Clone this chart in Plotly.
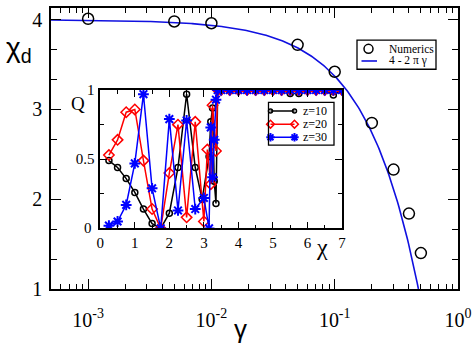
import numpy as np
import plotly.graph_objects as go

# ---- main panel data ----
gamma_num = [1e-3, 5e-3, 1e-2, 5e-2, 0.1, 0.2, 0.3, 0.4, 0.5]
chi_num = [4.01, 3.98, 3.96, 3.72, 3.42, 2.85, 2.33, 1.84, 1.40]

# theory curve 4 - 2*pi*gamma (drawn down to chi = 1)
gamma_fit = np.logspace(np.log10(5e-4), np.log10(3.0 / (2 * np.pi)), 300)
chi_fit = 4 - 2 * np.pi * gamma_fit

# ---- inset data ----
top_x = [3.5, 3.75, 4.0, 4.25, 4.5, 4.75, 5.0, 5.25, 5.5, 5.75, 6.0, 6.25, 6.5, 6.75, 7.0]

x_z10 = [0.25, 0.5, 0.75, 1.0, 1.25, 1.5, 1.75, 2.0, 2.25, 2.5, 2.75, 2.95, 3.15, 3.2, 3.25, 3.3, 3.35, 3.4] + top_x
q_z10 = [0.49, 0.44, 0.36, 0.26, 0.14, 0.035, 0.0, 0.11, 0.44, 0.97, 0.44, 0.21, 0.52, 0.77, 0.87, 0.34, 0.18, 1.0,
         1.0, 1.0, 1.0, 1.0, 1.0, 1.0, 1.0, 1.0, 0.975, 0.975, 1.0, 1.0, 1.0, 0.965, 1.0]

x_z20 = [0.25, 0.5, 0.75, 1.0, 1.25, 1.5, 1.75, 2.0, 2.25, 2.5, 2.75, 3.0, 3.1, 3.2, 3.25, 3.35, 3.4] + top_x
q_z20 = [0.53, 0.64, 0.84, 0.86, 0.49, 0.14, 0.0, 0.40, 0.75, 0.08, 0.77, 0.05, 0.57, 0.32, 0.89, 0.56, 1.0,
         1.0, 1.0, 1.0, 1.0, 1.0, 1.0, 1.0, 1.0, 1.0, 1.0, 1.0, 1.0, 1.0, 1.0, 1.0]

x_z30 = [0.25, 0.5, 0.75, 1.0, 1.25, 1.5, 1.75, 2.0, 2.25, 2.5, 2.75, 3.0, 3.15, 3.2, 3.25, 3.3, 3.35, 3.4] + top_x
q_z30 = [0.02, 0.05, 0.17, 0.47, 0.97, 0.29, 0.0, 0.79, 0.13, 0.78, 0.14, 0.22, 0.0, 0.73, 0.37, 0.64, 0.93, 1.0,
         1.0, 1.0, 1.0, 1.0, 1.0, 1.0, 1.0, 1.0, 1.0, 1.0, 1.0, 1.0, 1.0, 1.0, 1.0]

# ---- ticks ----
main_xticks = [1e-3, 1e-2, 1e-1, 1e0]
main_xticktext = ["10<sup>-3</sup>", "10<sup>-2</sup>", "10<sup>-1</sup>", "10<sup>0</sup>"]
main_xminor = [k * 10.0 ** e for e in (-4, -3, -2, -1) for k in range(2, 10)]
main_yticks = [1, 2, 3, 4]
main_yminor = [1 + i / 3 for i in range(1, 10) if i % 3 != 0]
inset_xticks = [0, 1, 2, 3, 4, 5, 6, 7]
inset_yticks = [0.5, 1]
inset_yticktext = ["0.5", "1"]

SERIF = "Liberation Serif"
SANS = "Liberation Sans"

W, H = 474, 344
L, R, T, B = 51, 16, 0, 55
pw, ph = W - L - R, H - T - B
INSET_X = [0.1211, 0.715]
INSET_Y = [0.2156, 0.708]

BLACK, RED, BLUE, LINEBLUE = "black", "#ff0000", "#0000ff", "#1010e0"

fig = go.Figure()

fig.add_trace(go.Scatter(
    x=gamma_fit, y=chi_fit, mode="lines", name="4 - 2 π γ",
    line=dict(color=LINEBLUE, width=1.6), xaxis="x", yaxis="y", showlegend=False))
fig.add_trace(go.Scatter(
    x=gamma_num, y=chi_num, mode="markers", name="Numerics",
    marker=dict(symbol="circle-open", size=11, color=BLACK, line=dict(width=1.5, color=BLACK)),
    xaxis="x", yaxis="y", showlegend=False))

inset_styles = [
    ("z=10", x_z10, q_z10, BLACK, "circle-open", 6, 1.5),
    ("z=20", x_z20, q_z20, RED, "diamond-open", 8, 1.5),
    ("z=30", x_z30, q_z30, BLUE, "asterisk-open", 9, 2.0),
]
for name, xs, ys, col, sym, sz, mlw in inset_styles:
    fig.add_trace(go.Scatter(
        x=xs, y=ys, mode="lines+markers", name=name,
        line=dict(color=col, width=1.5),
        marker=dict(symbol=sym, size=sz, color=col, line=dict(width=mlw, color=col)),
        xaxis="x2", yaxis="y2", showlegend=False))

# ---- hand-drawn legends on pixel overlay axes ----
# main legend keys (overlay on the main subplot: x3/y3)
fig.add_trace(go.Scatter(x=[368.5], y=[42], mode="markers",
                         marker=dict(symbol="circle-open", size=9, color=BLACK, line=dict(width=1.5, color=BLACK)),
                         xaxis="x3", yaxis="y3", showlegend=False, hoverinfo="skip"))
fig.add_trace(go.Scatter(x=[361.5, 377], y=[54.5, 54.5], mode="lines", line=dict(color=LINEBLUE, width=1.6),
                         xaxis="x3", yaxis="y3", showlegend=False, hoverinfo="skip"))
# inset legend keys (overlay on the inset subplot: x4/y4)
for (name, xs, ys, col, sym, sz, mlw), ky in zip(inset_styles, [106, 119.5, 133]):
    fig.add_trace(go.Scatter(x=[270.5, 294.5], y=[ky, ky], mode="lines+markers",
                             line=dict(color=col, width=1.5),
                             marker=dict(symbol=sym, size=sz - 2, color=col, line=dict(width=mlw, color=col)),
                             xaxis="x4", yaxis="y4", showlegend=False, hoverinfo="skip"))

axis_common = dict(showline=True, linecolor="black", linewidth=1.6, mirror="ticks",
                   ticks="inside", tickcolor="black", tickwidth=1.3, showgrid=False, zeroline=False)

ix0, ix1 = L + INSET_X[0] * pw, L + INSET_X[1] * pw
iy_bot, iy_top = H - B - INSET_Y[0] * ph, H - B - INSET_Y[1] * ph

fig.update_layout(
    width=W, height=H,
    margin=dict(l=L, r=R, t=T, b=B),
    paper_bgcolor="white", plot_bgcolor="white",
    showlegend=False,
    xaxis=dict(type="log", range=[np.log10(5e-4), 0], domain=[0, 1],
               tickvals=main_xticks, ticktext=main_xticktext, ticklen=10,
               tickfont=dict(family=SERIF, size=20, color="black"),
               minor=dict(ticks="inside", tickvals=main_xminor, ticklen=5, tickcolor="black", tickwidth=1.3,
                          showgrid=False),
               ticklabelstandoff=12, **axis_common),
    yaxis=dict(range=[1, 4.13], domain=[0, 1], tickvals=main_yticks, ticklen=10,
               tickfont=dict(family=SERIF, size=20, color="black"),
               minor=dict(ticks="inside", tickvals=main_yminor, ticklen=6, tickcolor="black", tickwidth=1.3,
                          showgrid=False),
               ticklabelstandoff=3, **axis_common),
    xaxis2=dict(range=[0, 7], domain=INSET_X, anchor="y2", tickvals=inset_xticks, ticklen=7,
                tickfont=dict(family=SERIF, size=15, color="black"),
                minor=dict(ticks="inside", dtick=0.5, ticklen=4, tickcolor="black", tickwidth=1.2, showgrid=False),
                ticklabelstandoff=0, **axis_common),
    yaxis2=dict(range=[0, 1], domain=INSET_Y, anchor="x2", tickvals=inset_yticks, ticktext=inset_yticktext,
                ticklen=7, tickfont=dict(family=SERIF, size=15, color="black"),
                minor=dict(ticks="inside", dtick=0.25, ticklen=4, tickcolor="black", tickwidth=1.2, showgrid=False),
                ticklabelstandoff=1, **axis_common),
    xaxis3=dict(range=[L, W - R], anchor="y3", overlaying="x", visible=False, fixedrange=True),
    yaxis3=dict(range=[H - B, T], anchor="x3", overlaying="y", visible=False, fixedrange=True),
    xaxis4=dict(range=[ix0, ix1], anchor="y4", overlaying="x2", visible=False, fixedrange=True),
    yaxis4=dict(range=[iy_bot, iy_top], anchor="x4", overlaying="y2", visible=False, fixedrange=True),
    shapes=[
        dict(type="rect", xref="x3", yref="y3", x0=357, x1=436, y0=33, y1=63,
             line=dict(color="black", width=1.3), fillcolor="rgba(0,0,0,0)", layer="above"),
        dict(type="rect", xref="x4", yref="y4", x0=268.5, x1=334, y0=97, y1=141,
             line=dict(color="black", width=1.3), fillcolor="rgba(0,0,0,0)", layer="above"),
    ],
)


def pix(px, py):
    return (px - L) / pw, (H - B - py) / ph


anns = []
for text, (px, py), fam, size in [
    ("χ<sub>d</sub>", (19, 43), SANS, 28),
    ("γ", (240, 330), SANS, 26),
    ("Q", (78, 98), SERIF, 19),
    ("χ", (322, 246), SERIF, 24),
    ("0", (88, 226), SERIF, 15),
]:
    x, y = pix(px, py)
    anns.append(dict(text=text, x=x, y=y, xref="paper", yref="paper", xanchor="center", yanchor="middle",
                     showarrow=False, font=dict(family=fam, size=size, color="black")))

for text, (px, py), size, xr, yr in [
    ("Numerics", (387, 42), 11.5, "x3", "y3"),
    ("4 - 2 π γ", (387, 54.5), 11.5, "x3", "y3"),
    ("z=10", (301.5, 106), 12, "x4", "y4"),
    ("z=20", (301.5, 119.5), 12, "x4", "y4"),
    ("z=30", (301.5, 133), 12, "x4", "y4"),
]:
    anns.append(dict(text=text, x=px, y=py, xref=xr, yref=yr, xanchor="left", yanchor="middle",
                     showarrow=False, font=dict(family=SERIF, size=size, color="black")))

fig.update_layout(annotations=anns)

fig.write_html("out.html")
